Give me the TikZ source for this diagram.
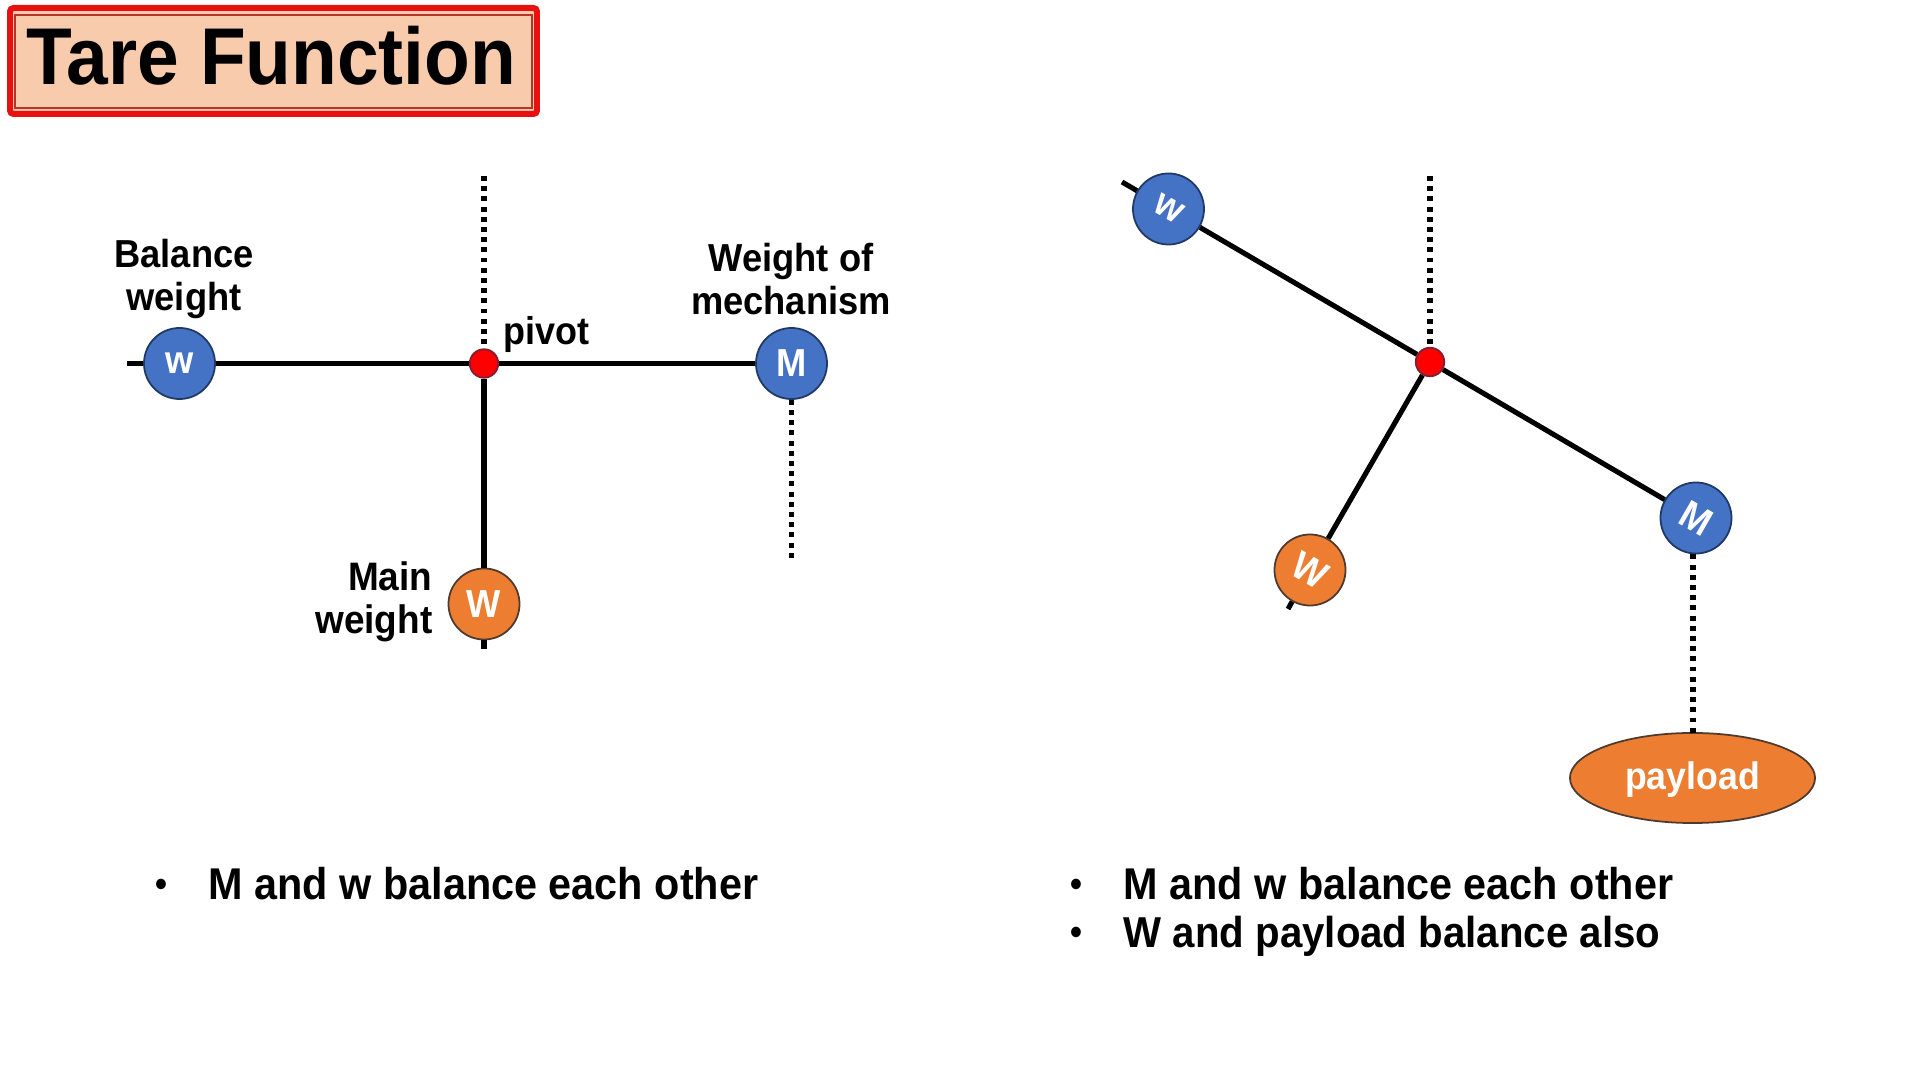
\documentclass[tikz,border=0pt]{standalone}
\usepackage{fontspec}
\setmainfont[FakeStretch=0.93]{Liberation Sans}
\usetikzlibrary{shapes.geometric}
\definecolor{titlefill}{HTML}{F8CBAD}
\definecolor{titlered}{HTML}{E8110F}
\definecolor{titleline}{HTML}{B8342A}
\definecolor{massblue}{HTML}{4472C4}
\definecolor{massorange}{HTML}{ED7D31}
\definecolor{rimblue}{HTML}{1F3864}
\definecolor{rimorange}{HTML}{4F3A30}
\definecolor{rimred}{HTML}{7F1F35}
\tikzset{
  mass/.style={circle,line width=0.5pt,minimum size=0.71cm,inner sep=0pt,text=white,font=\bfseries\fontsize{11.1}{12}\selectfont},
  bluemass/.style={mass,draw=rimblue,fill=massblue},
  orangemass/.style={mass,draw=rimorange,fill=massorange},
  pivotdot/.style={circle,draw=rimred,line width=0.5pt,fill=red,minimum size=0.285cm,inner sep=0pt},
  caption/.style={align=center,inner sep=0pt,font=\bfseries\fontsize{11.1}{12.3}\selectfont},
  bullet/.style={anchor=base west,inner sep=0pt,font=\bfseries\fontsize{12.65}{14}\selectfont},
  dotmark/.style={anchor=base west,inner sep=0pt,font=\bfseries\fontsize{10.4}{12}\selectfont},
  beam/.style={line width=1.45pt},
  plumb/.style={line width=1.5pt,dash pattern=on 1.4pt off 1.5pt},
}
\begin{document}
\begin{tikzpicture}[x=0.01cm,y=-0.01cm]
	\useasboundingbox (0,0) rectangle (1920,1080);

	% TITLE
	\draw[titlered,fill=titlefill,line width=1.7pt,rounded corners=1pt] (10,8) rectangle (537,114);
	\draw[titleline,line width=0.7pt] (15,15) rectangle (532,108);
	\node (title) [anchor=base west,inner sep=0pt,font=\bfseries\fontsize{22.9}{24}\selectfont] at (26,85) {Tare Function};

	% LEFT BLOCKS
	\node (wa) [bluemass] at (179.5,363.5) {w};
	\node (pivota) [pivotdot] at (484,363.5) {};
	\node (ma) [bluemass] at (791.5,363.5) {M};
	\node (bigwa) [orangemass] at (484,604) {W};
	\coordinate (wendA) at (127,363.5);
	\coordinate (bigwendA) at (484,649);
	\coordinate (topA) at (484,176);
	\coordinate (downA) at (791.5,561);

	% LEFT ARROWS
	\draw [beam] (wendA) -- (wa);
	\draw [beam] (wa) -- (pivota);
	\draw [beam] (pivota) -- (ma);
	\draw [beam] (pivota) -- (bigwa);
	\draw [beam] (bigwa) -- (bigwendA);
	\draw [plumb] (topA) -- (pivota);
	\draw [plumb] (ma) -- (downA);

	% LEFT LABELS
	\node (balance) [caption] at (184,279) {Balance\\weight};
	\node (mech) [caption] at (791,279) {Weight of\\mechanism};
	\node (pivotlabel) [anchor=base west,inner sep=0pt,font=\bfseries\fontsize{11}{12}\selectfont] at (503,344.5) {pivot};
	\node (mainlabel) [caption,anchor=east,align=right,font=\bfseries\fontsize{11.3}{12.3}\selectfont] at (433,601.5) {Main\\weight};

	% RIGHT BLOCKS
	\node (wb) [bluemass] at (1168.5,209) {\rotatebox{-30}{w}};
	\node (pivotb) [pivotdot] at (1430,362) {};
	\node (mb) [bluemass] at (1696,518) {\rotatebox{-30}{M}};
	\node (bigwb) [orangemass] at (1310,570) {\rotatebox{-30}{W}};
	\node (payload) [ellipse,draw=rimorange,line width=0.5pt,fill=massorange,minimum width=2.45cm,minimum height=0.9cm,inner sep=0pt,text=white,text height=9.1pt,text depth=2.3pt,font=\bfseries\fontsize{10.9}{12}\selectfont] at (1692.5,778) {payload};
	\coordinate (wendB) at (1122,182);
	\coordinate (bigwendB) at (1288,609);
	\coordinate (topB) at (1430,176);
	\coordinate (downB) at (1693,733);

	% RIGHT ARROWS
	\draw [beam] (wendB) -- (wb);
	\draw [beam] (wb) -- (pivotb);
	\draw [beam] (pivotb) -- (mb);
	\draw [beam] (pivotb) -- (bigwb);
	\draw [beam] (bigwb) -- (bigwendB);
	\draw [plumb] (topB) -- (pivotb);
	\draw [plumb] (mb.south -| downB) -- (downB);

	% BULLETS
	\node (dota) [dotmark] at (155,897) {•};
	\node (notea) [bullet] at (208,900) {M and w balance each other};
	\node (dotb) [dotmark] at (1070,897) {•};
	\node (noteb) [bullet] at (1123,900) {M and w balance each other};
	\node (dotc) [dotmark] at (1070,945) {•};
	\node (notec) [bullet,font=\bfseries\fontsize{12.3}{14}\selectfont] at (1123,948) {W and payload balance also};
\end{tikzpicture}
\end{document}
